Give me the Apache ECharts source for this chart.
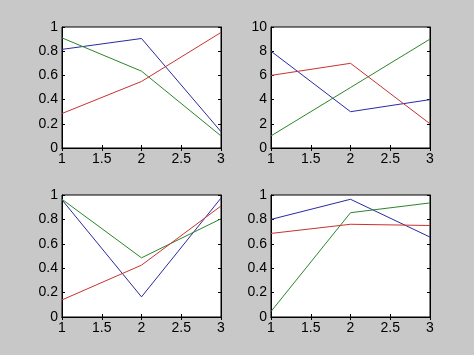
<!DOCTYPE html>
<html>
<head>
<meta charset="utf-8">
<script src="https://cdn.jsdelivr.net/npm/echarts@6/dist/echarts.min.js"></script>
<style>
  html, body { margin: 0; padding: 0; background: #c8c8c8; }
  #chart { width: 474px; height: 355px; }
</style>
</head>
<body>
<div id="chart"></div>
<script>
// x positions shared by all subplots
const xs = [1, 2, 3]
const xTicks = [1, 1.5, 2, 2.5, 3]

// subplot 1 (top left)
const p1Blue = [0.815, 0.905, 0.135]
const p1Green = [0.91, 0.635, 0.10]
const p1Red = [0.285, 0.55, 0.955]

// subplot 2 (top right)
const p2Blue = [8, 3, 4]
const p2Green = [1, 5, 9]
const p2Red = [6, 7, 2]

// subplot 3 (bottom left)
const p3Blue = [0.96, 0.165, 0.975]
const p3Green = [0.965, 0.485, 0.805]
const p3Red = [0.14, 0.425, 0.91]

// subplot 4 (bottom right)
const p4Blue = [0.80, 0.965, 0.655]
const p4Green = [0.045, 0.855, 0.935]
const p4Red = [0.685, 0.76, 0.75]

const plots = [
  { blue: p1Blue, green: p1Green, red: p1Red, max: 1, step: 0.2 },
  { blue: p2Blue, green: p2Green, red: p2Red, max: 10, step: 2 },
  { blue: p3Blue, green: p3Green, red: p3Red, max: 1, step: 0.2 },
  { blue: p4Blue, green: p4Green, red: p4Red, max: 1, step: 0.2 }
]

const colors = { blue: '#2a2aa0', green: '#2a862a', red: '#c83232' }
const font = { fontFamily: 'Liberation Sans, Arial, sans-serif', fontSize: 14, color: '#000' }

const grids = [
  { left: 62, top: 27, width: 159, height: 121 },
  { left: 271, top: 27, width: 159, height: 121 },
  { left: 62, top: 195, width: 159, height: 122 },
  { left: 271, top: 195, width: 159, height: 122 }
].map(g => Object.assign(g, { show: true, backgroundColor: '#fff', borderColor: '#000', borderWidth: 1, containLabel: false }))

const xAxis = []
const yAxis = []
const series = []

plots.forEach((p, i) => {
  const tick = { show: true, inside: true, length: 3, lineStyle: { color: '#000' } }
  const line = { show: true, lineStyle: { color: '#000', width: 1 } }
  // bottom / left axes with labels
  xAxis.push({
    type: 'value', gridIndex: i, min: 1, max: 3, interval: 0.5, position: 'bottom',
    axisLine: line, axisTick: tick, splitLine: { show: false },
    axisLabel: Object.assign({ margin: 4, showMinLabel: true, showMaxLabel: true }, font)
  })
  yAxis.push({
    type: 'value', gridIndex: i, min: 0, max: p.max, interval: p.step, position: 'left',
    axisLine: line, axisTick: tick, splitLine: { show: false },
    axisLabel: Object.assign({ margin: 4 }, font)
  })
  // top / right axes for the box ticks
  xAxis.push({
    type: 'value', gridIndex: i, min: 1, max: 3, interval: 0.5, position: 'top',
    axisLine: line, axisTick: tick, splitLine: { show: false }, axisLabel: { show: false }
  })
  yAxis.push({
    type: 'value', gridIndex: i, min: 0, max: p.max, interval: p.step, position: 'right',
    axisLine: line, axisTick: tick, splitLine: { show: false }, axisLabel: { show: false }
  })
  ;['blue', 'green', 'red'].forEach(c => {
    series.push({
      type: 'line',
      xAxisIndex: i * 2,
      yAxisIndex: i * 2,
      data: xs.map((x, k) => [x, p[c][k]]),
      showSymbol: false,
      silent: true,
      animation: false,
      lineStyle: { color: colors[c], width: 1 }
    })
  })
})

const chart = echarts.init(document.getElementById('chart'))
chart.setOption({
  backgroundColor: '#c8c8c8',
  animation: false,
  grid: grids,
  xAxis: xAxis,
  yAxis: yAxis,
  series: series
})
</script>
</body>
</html>
